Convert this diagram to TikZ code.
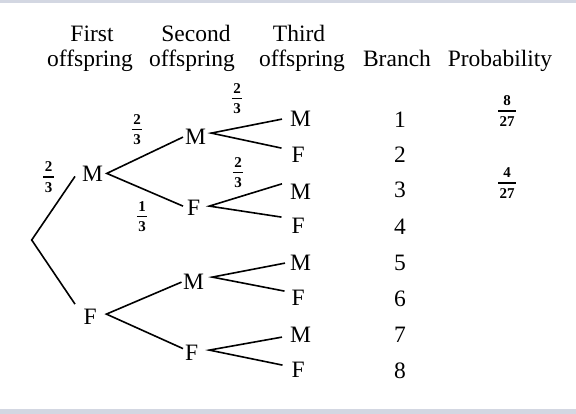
\documentclass[tikz,border=0pt]{standalone}
\usepackage{fontspec}
\setmainfont{Liberation Serif}
\definecolor{barc}{RGB}{211,215,226}
\newcommand\fr[2]{\vbox{\offinterlineskip\halign{\hfil\kern1.5pt##\kern1.5pt\hfil\cr\textbf{#1}\cr\noalign{\kern4.5pt\hrule height 1.8pt\kern4.5pt}\textbf{#2}\cr}}}
\begin{document}
\begin{tikzpicture}[x=1pt,y=-1pt,
  lab/.style={font=\fontsize{23.5}{28}\selectfont, inner sep=0pt, anchor=base west},
  inode/.style={lab, text width=20.9pt, align=left},
  hd/.style={font=\fontsize{23.5}{28}\selectfont, inner sep=0pt, anchor=base},
  frac/.style={font=\fontsize{15}{18}\selectfont, inner sep=0pt},
  edge/.style={line width=1.6pt},
]
\useasboundingbox (0,0) rectangle (576,414);
\fill[barc] (0,0) rectangle (576,3);
\fill[barc] (0,409) rectangle (576,414);

% headers
\node[hd] (h1a) at (92,42) {First};
\node[hd] (h1b) at (90,67) {offspring};
\node[hd] (h2a) at (196,42) {Second};
\node[hd] (h2b) at (192,67) {offspring};
\node[hd] (h3a) at (299,42) {Third};
\node[hd] (h3b) at (302,67) {offspring};
\node[hd] (h4) at (397,67) {Branch};
\node[hd] (h5) at (500,67) {Probability};

% tree
\coordinate (root) at (31.7,240);
\node[inode] (m1) at (82,181.1) {M};
\node[inode] (f1) at (83.5,324.8) {F};
\node[inode] (mm) at (185,144.8) {M};
\node[inode] (mf) at (187,215.8) {F};
\node[inode] (fm) at (183,289.8) {M};
\node[inode] (ff) at (185,360.3) {F};
\node[lab] (mmm) at (290,126.8) {M};
\node[lab] (mmf) at (291.5,162.8) {F};
\node[lab] (mfm) at (290,199.5) {M};
\node[lab] (mff) at (291.5,233.8) {F};
\node[lab] (fmm) at (290,270.8) {M};
\node[lab] (fmf) at (291.5,305.8) {F};
\node[lab] (ffm) at (290,342.8) {M};
\node[lab] (fff) at (291.5,377.3) {F};

\draw[edge] ([shift={(-7,3)}]m1.west) -- (root) -- ([shift={(-8.5,-13)}]f1.west);
\draw[edge] ([shift={(-2,0)}]mm.west) -- ([shift={(3.5,0)}]m1.east) -- ([shift={(-4,-2)}]mf.west);
\draw[edge] ([shift={(-1.5,0)}]fm.west) -- ([shift={(1.6,-3)}]f1.east) -- ([shift={(-2,-4)}]ff.west);
\draw[edge] ([shift={(-8,0)}]mmm.west) -- ([shift={(5,-4)}]mm.east) -- ([shift={(-10,-7)}]mmf.west);
\draw[edge] ([shift={(-8,-8)}]mfm.west) -- ([shift={(1,-2)}]mf.east) -- ([shift={(-10,-9)}]mff.west);
\draw[edge] ([shift={(-5,0)}]fmm.west) -- ([shift={(8,-5)}]fm.east) -- ([shift={(-7,-7)}]fmf.west);
\draw[edge] ([shift={(-8,2)}]ffm.west) -- ([shift={(3,-2.5)}]ff.east) -- ([shift={(-9,-4.5)}]fff.west);

% edge probabilities
\node[frac] (p1) at (48.5,177) {\fr{2}{3}};
\node[frac] (p2) at (137,129.5) {\fr{2}{3}};
\node[frac] (p3) at (142,216.5) {\fr{1}{3}};
\node[frac] (p4) at (237,98.5) {\fr{2}{3}};
\node[frac] (p5) at (238,172.5) {\fr{2}{3}};

% branch numbers
\node[hd] (b1) at (400,128) {1};
\node[hd] (b2) at (400,163) {2};
\node[hd] (b3) at (400,198) {3};
\node[hd] (b4) at (400,235) {4};
\node[hd] (b5) at (400,271) {5};
\node[hd] (b6) at (400,306) {6};
\node[hd] (b7) at (400,342) {7};
\node[hd] (b8) at (400,378) {8};

% probabilities
\node[frac] (q1) at (507,111) {\fr{8}{27}};
\node[frac] (q2) at (507,183) {\fr{4}{27}};
\end{tikzpicture}
\end{document}
